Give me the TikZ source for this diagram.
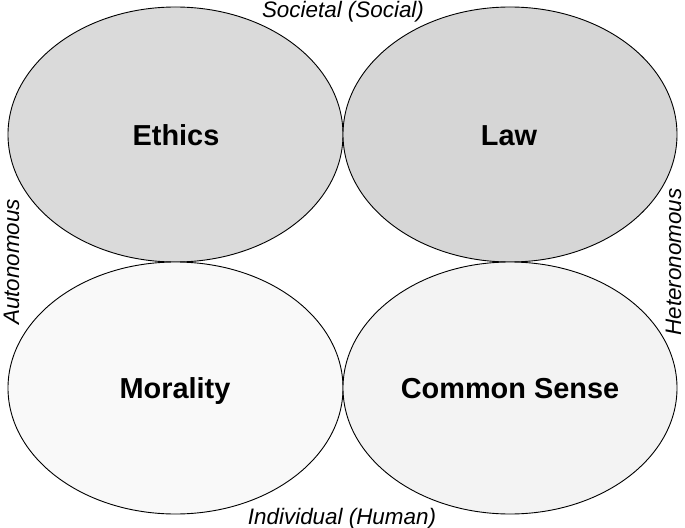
\documentclass[tikz,border=0pt]{standalone}
\usepackage{fontspec}
\setmainfont{Liberation Sans}
\definecolor{topL}{RGB}{218,218,218}
\definecolor{topR}{RGB}{214,214,214}
\definecolor{botL}{RGB}{249,249,249}
\definecolor{botR}{RGB}{243,243,243}
\begin{document}
\begin{tikzpicture}[x=1bp,y=-1bp,
  oval/.style={draw=black,line width=0.9bp},
  big/.style={font=\fontsize{29}{34}\selectfont\bfseries,anchor=base,inner sep=0pt},
  side/.style={font=\fontsize{22.5}{27}\selectfont\itshape,anchor=base,inner sep=0pt}]
\useasboundingbox (0,0) rectangle (685,528);
\fill[white] (0,0) rectangle (685,528);
\draw[oval,fill=topL] (175.5,134.5) ellipse [x radius=167.5bp, y radius=127.5bp];
\draw[oval,fill=topR] (510,134.5) ellipse [x radius=167bp, y radius=127.5bp];
\draw[oval,fill=botL] (175.5,388) ellipse [x radius=167.5bp, y radius=126bp];
\draw[oval,fill=botR] (510,388) ellipse [x radius=167bp, y radius=126bp];
\node[big] (ethics) at (176,146) {Ethics};
\node[big] (law) at (509,146) {Law};
\node[big] (morality) at (175,398) {Morality};
\node[big] (common) at (510,398) {Common Sense};
\node[side] (societal) at (343,18) {Societal (Social)};
\node[side] (individual) at (342,524) {Individual (Human)};
\node[side,rotate=90] (auto) at (19,262) {Autonomous};
\node[side,rotate=90] (hetero) at (681,262) {Heteronomous};
\end{tikzpicture}
\end{document}
